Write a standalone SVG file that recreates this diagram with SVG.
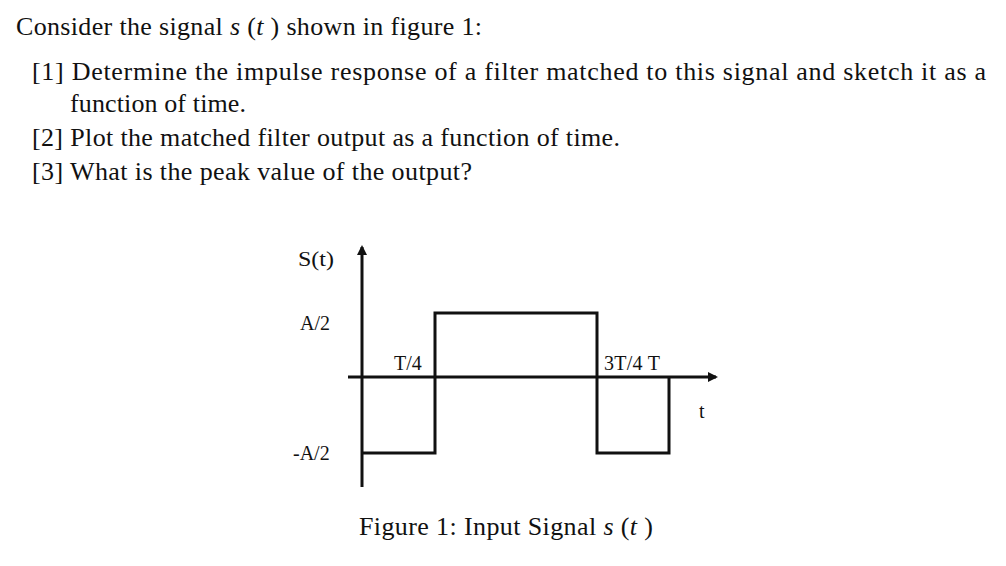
<svg xmlns="http://www.w3.org/2000/svg" width="1006" height="566" viewBox="0 0 1006 566">
<style>
.t{font-family:"Liberation Serif",serif;font-size:26px;fill:#111}
.s{font-family:"Liberation Serif",serif;font-size:20px;fill:#111}
.i{font-style:italic}
.ln{stroke:#111;stroke-width:3;fill:none}
</style>
<defs><marker id="ah" markerWidth="10" markerHeight="10" refX="8" refY="5" orient="auto" markerUnits="userSpaceOnUse"><path d="M0,0L10,5L0,10z" fill="#111"/></marker></defs>
<rect width="1006" height="566" fill="#fff"/>
<text class="t" x="16" y="35" textLength="466" lengthAdjust="spacing">Consider the signal <tspan class="i">s</tspan> (<tspan class="i">t</tspan> ) shown in figure 1:</text>
<text class="t" x="32" y="80" textLength="954" lengthAdjust="spacing">[1] Determine the impulse response of a filter matched to this signal and sketch it as a</text>
<text class="t" x="70" y="112" textLength="176" lengthAdjust="spacing">function of time.</text>
<text class="t" x="32" y="146" textLength="588" lengthAdjust="spacing">[2] Plot the matched filter output as a function of time.</text>
<text class="t" x="32" y="180" textLength="440" lengthAdjust="spacing">[3] What is the peak value of the output?</text>
<g id="axes">
<line class="ln" x1="362" y1="487" x2="362" y2="247" marker-end="url(#ah)"/>
<line class="ln" x1="348" y1="377" x2="716" y2="377" marker-end="url(#ah)"/>
</g>
<g id="signal"><polyline class="ln" points="362,453 435,453 435,313 597,313 597,453 669,453 669,377"/></g>
<g id="labels">
<text class="s" x="298" y="266" textLength="36" lengthAdjust="spacingAndGlyphs">S(t)</text>
<text class="s" x="300" y="330">A/2</text>
<text class="s" x="293" y="460">-A/2</text>
<text class="s" x="394" y="370">T/4</text>
<text class="s" x="604" y="370" textLength="56" lengthAdjust="spacing">3T/4  T</text>
<text class="s" x="699" y="418">t</text>
</g>
<text class="t" x="359" y="535" textLength="294" lengthAdjust="spacing">Figure 1: Input Signal <tspan class="i">s</tspan> (<tspan class="i">t</tspan> )</text>
</svg>
